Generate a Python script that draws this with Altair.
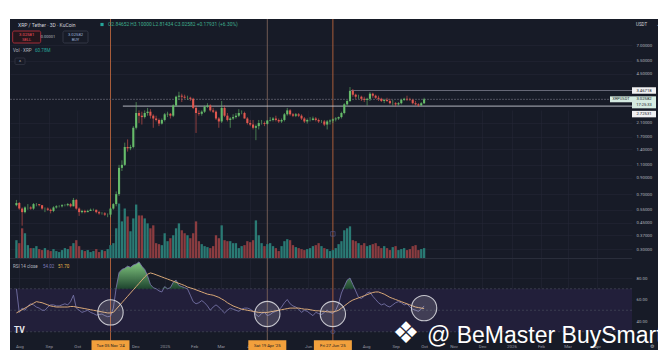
import altair as alt
import pandas as pd

# ---------------- data ----------------
first_date = "2024-07-29"          # 3-day candles
first_open = 0.59
last_open = 2.84652
closes = [0.61, 0.56, 0.53, 0.57, 0.57, 0.56, 0.60, 0.60, 0.59, 0.56,
          0.56, 0.55, 0.54, 0.57, 0.58, 0.58, 0.59, 0.59, 0.60, 0.58,
          0.64, 0.56, 0.53, 0.54, 0.53, 0.54, 0.55, 0.55, 0.53, 0.52,
          0.52, 0.51, 0.51, 0.56, 0.60, 0.70, 1.05, 1.10, 1.45, 1.42,
          1.45, 1.95, 2.45, 2.35, 2.30, 2.45, 2.50, 2.35, 2.25, 2.20,
          2.08, 2.20, 2.40, 2.42, 2.35, 2.75, 3.15, 3.20, 3.15, 3.10,
          3.10, 3.05, 2.65, 2.45, 2.42, 2.50, 2.70, 2.75, 2.55, 2.50,
          2.25, 2.15, 2.65, 2.35, 2.20, 2.25, 2.30, 2.35, 2.45, 2.45,
          2.25, 2.10, 2.05, 1.95, 2.00, 2.10, 2.10, 2.07, 2.18, 2.20,
          2.25, 2.20, 2.15, 2.20, 2.40, 2.55, 2.40, 2.35, 2.40, 2.35,
          2.25, 2.15, 2.20, 2.20, 2.25, 2.20, 2.15, 2.15, 2.05, 2.15,
          2.18, 2.22, 2.25, 2.30, 2.45, 2.80, 2.95, 3.45, 3.25, 3.15,
          3.15, 3.05, 3.00, 3.05, 3.30, 3.20, 3.10, 3.05, 2.95, 3.00,
          2.95, 2.85, 2.85, 2.80, 2.85, 3.00, 3.05, 3.02, 3.00, 2.85,
          2.80, 2.75, 2.85, 3.02582]
highs = [0.64, 0.62, 0.57, 0.58, 0.60, 0.58, 0.61, 0.61, 0.60, 0.59,
         0.57, 0.57, 0.56, 0.58, 0.59, 0.59, 0.60, 0.60, 0.61, 0.61,
         0.66, 0.65, 0.57, 0.55, 0.55, 0.55, 0.56, 0.56, 0.55, 0.54,
         0.53, 0.53, 0.52, 0.57, 0.61, 0.73, 1.10, 1.18, 1.55, 1.63,
         1.50, 2.00, 2.90, 2.55, 2.50, 2.55, 2.65, 2.60, 2.40, 2.35,
         2.25, 2.25, 2.45, 2.50, 2.45, 2.80, 3.20, 3.40, 3.30, 3.25,
         3.20, 3.15, 3.10, 2.75, 2.55, 2.55, 2.75, 2.85, 2.80, 2.65,
         2.55, 2.30, 2.95, 2.75, 2.45, 2.30, 2.40, 2.45, 2.60, 2.55,
         2.50, 2.30, 2.20, 2.20, 2.05, 2.20, 2.20, 2.15, 2.20, 2.30,
         2.30, 2.35, 2.25, 2.25, 2.45, 2.65, 2.60, 2.45, 2.45, 2.45,
         2.40, 2.30, 2.25, 2.30, 2.32, 2.30, 2.25, 2.20, 2.20, 2.20,
         2.22, 2.25, 2.30, 2.32, 2.50, 2.85, 3.00, 3.66, 3.55, 3.30,
         3.25, 3.20, 3.15, 3.10, 3.38, 3.35, 3.25, 3.20, 3.10, 3.05,
         3.10, 3.05, 3.00, 2.90, 2.90, 3.05, 3.10, 3.20, 3.10, 3.05,
         2.95, 2.85, 2.90, 3.10]
lows = [0.58, 0.55, 0.43, 0.52, 0.55, 0.55, 0.55, 0.58, 0.58, 0.55,
        0.53, 0.54, 0.52, 0.53, 0.56, 0.57, 0.57, 0.58, 0.58, 0.57,
        0.58, 0.55, 0.50, 0.52, 0.52, 0.53, 0.54, 0.54, 0.52, 0.51,
        0.51, 0.50, 0.49, 0.49, 0.55, 0.58, 0.68, 1.00, 1.08, 1.35,
        1.38, 1.42, 1.90, 2.10, 2.05, 2.25, 2.35, 2.25, 1.95, 2.15,
        2.00, 2.05, 2.15, 2.30, 2.25, 2.30, 2.70, 3.00, 2.90, 3.05,
        3.00, 2.95, 2.60, 1.80, 2.35, 2.35, 2.45, 2.65, 2.50, 2.45,
        2.20, 1.95, 2.10, 2.30, 2.15, 1.95, 2.20, 2.25, 2.30, 2.40,
        2.25, 2.05, 2.00, 1.90, 1.61, 1.90, 2.05, 2.00, 2.05, 2.15,
        2.15, 2.15, 2.10, 2.10, 2.15, 2.35, 2.35, 2.30, 2.30, 2.30,
        2.20, 2.10, 2.08, 2.15, 2.18, 2.15, 2.10, 2.10, 2.00, 1.90,
        2.05, 2.10, 2.15, 2.20, 2.25, 2.40, 2.75, 2.90, 3.15, 3.05,
        3.05, 2.95, 2.90, 2.75, 2.95, 3.10, 3.05, 2.95, 2.90, 2.85,
        2.90, 2.80, 2.75, 2.70, 2.75, 2.80, 2.95, 2.95, 2.95, 2.80,
        2.75, 2.70, 2.75, 2.81434]
volumes = [324, 270, 540, 450, 234, 180, 180, 216, 162, 144,
           180, 144, 126, 162, 126, 108, 144, 180, 162, 216,
           270, 324, 216, 144, 126, 144, 108, 126, 162, 108,
           144, 126, 162, 234, 270, 540, 990, 666, 900, 756,
           486, 720, 972, 774, 774, 720, 630, 540, 594, 270,
           252, 234, 450, 306, 360, 414, 540, 630, 504, 450,
           414, 360, 450, 666, 306, 252, 216, 198, 180, 216,
           414, 360, 594, 324, 306, 306, 270, 270, 180, 216,
           234, 306, 288, 324, 684, 414, 270, 216, 252, 270,
           216, 180, 126, 216, 306, 342, 324, 234, 198, 180,
           162, 144, 162, 180, 216, 234, 270, 216, 180, 162,
           126, 144, 180, 252, 306, 504, 540, 576, 324, 306,
           270, 234, 270, 216, 234, 252, 270, 216, 180, 216,
           180, 144, 198, 216, 144, 162, 180, 144, 162, 216,
           234, 144, 162, 180]
rsi_vals = [70, 48, 52, 50, 54, 56, 55, 53, 52, 50,
            50, 53, 55, 55, 54, 54, 55, 56, 55, 58,
            64, 52, 50, 48, 49, 50, 48, 47, 45.5, 46,
            46.5, 45, 44, 44.5, 52, 71, 85, 88, 89, 91,
            90, 92, 93, 95, 91, 88, 82, 74, 71, 70,
            68, 67, 72, 70, 71, 76, 78, 73, 72, 71,
            70, 64, 58, 56, 57, 59, 57, 54, 50, 53,
            55, 53, 50, 47.5, 50, 52, 51, 50, 49, 51,
            52, 52, 51, 49, 46, 44, 47, 48, 45, 46,
            48, 49, 50, 53, 57, 60, 56, 54, 53, 51,
            48, 50, 49, 47, 45, 48, 47, 46, 48, 50,
            48, 47, 50, 56, 66, 72, 78, 80, 74, 68,
            62, 61, 63, 66, 67, 63, 60, 57, 55, 56,
            54, 53, 55, 57, 58, 57, 55, 56, 53, 51,
            50, 49, 51, 54.02]
rsi_ma = [47.5, 49, 50.5, 52, 53.5, 55, 56.5, 58, 57.5, 57,
          56, 55, 54, 53.5, 53, 53, 53, 53, 53, 53.5,
          53.5, 53, 52.5, 52, 51.5, 51, 50.5, 50, 49.5, 49,
          48.5, 48, 47.5, 47.5, 48, 51, 54, 57, 60, 63,
          66, 69, 72, 75, 78, 81, 83.5, 84.7, 84, 83,
          82, 81, 80, 79, 78, 77, 76, 75, 74, 73,
          71.6, 70.8, 70, 69, 68, 67, 66, 65, 64.5, 64,
          63, 62, 60.5, 59, 57, 55.5, 54, 53, 52, 51,
          50.5, 50, 49.5, 49, 48.5, 48, 48, 48, 48, 48.5,
          49, 49.5, 50, 50.5, 51, 51.5, 52, 52, 52, 52,
          51.5, 51, 51, 50.5, 50, 49.5, 49.5, 49, 49, 48.5,
          48.5, 48.4, 49, 50, 52, 54, 56, 58, 59.5, 60.5,
          61.5, 62.5, 63.5, 64.5, 65.5, 66.5, 67, 67, 66, 65,
          63.5, 62, 61, 60, 59, 58, 57, 56, 55, 54,
          53, 52.5, 52, 51.7]

price_ticks = [0.30, 0.37, 0.45, 0.55, 0.70, 0.90, 1.10, 1.40, 1.70, 2.10, 4.50, 5.50, 7.00, 8.80]
rsi_ticks = [40, 60, 80]
rsi_levels = [70, 50, 30]
rsi_band = [70, 30]
month_ticks = ["2024-08-01", "2024-09-01", "2024-10-01", "2024-12-01", "2025-01-01",
               "2025-02-01", "2025-03-01", "2025-04-01", "2025-06-01", "2025-08-01",
               "2025-09-01", "2025-10-01", "2025-11-01", "2025-12-01", "2026-01-01",
               "2026-02-01", "2026-03-01", "2026-04-01"]
x_domain = ["2024-07-27T12:00:00", "2026-05-02T12:00:00"]
marker_dates = ["2024-11-05", "2025-04-19", "2025-06-27"]
marker_labels = ["Tue 05 Nov '24", "Sat 19 Apr '25", "Fri 27 Jun '25"]
circle_dates = ["2024-11-05", "2025-04-19", "2025-06-27", "2025-10-01"]
circle_rsi = [48, 46.5, 46.5, 52]
hi_level, last_price, lo_level = 3.46718, 3.02582, 2.72531
hi_level_start, lo_level_start = "2025-07-16", "2024-11-18"
countdown = "17:25:33"
anchor_date, anchor_price, anchor_rsi = "2025-06-27", 0.379, 30

# ---------------- styling ----------------
W, H = 622, 321
BG = "#171b27"
TXT = "#b2b5be"
UP, DN = "#66bb6a", "#e0574f"
VUP, VDN = "#2a7a74", "#8a3c40"
GRID = "#232736"
FONT = "Roboto"

n = len(closes)
dates = pd.date_range(first_date, periods=n, freq="3D").strftime("%Y-%m-%d")
opens = [first_open] + closes[:-1]
opens[-1] = last_open
df = pd.DataFrame(dict(date=dates, open=opens, high=highs, low=lows, close=closes,
                       vol=volumes, rsi=rsi_vals, ma=rsi_ma))


def ms(s):
    return int(pd.Timestamp(s).value // 10**6)


xs = alt.Scale(type="utc", domain=[ms(d) for d in x_domain], nice=False)
xaxis = alt.Axis(values=[ms(d) for d in month_ticks], title=None, grid=True, gridColor=GRID,
                 gridWidth=0.6, domain=False, ticks=False, labelColor="#9598a1",
                 labelFontSize=4.4, labelFont=FONT, labelPadding=4, labelFlush=False,
                 labelOverlap=False,
                 labelExpr="utcFormat(datum.value, '%m') == '01' ? utcFormat(datum.value, '%Y') : utcFormat(datum.value, '%b')")


def X(field):
    return alt.X(f"{field}:T", scale=xs, axis=xaxis, title=None)


ps = alt.Scale(type="log", domain=[0.3, 7.0], range=[230, 26], nice=False)
rs = alt.Scale(domain=[40, 80], range=[302, 259], nice=False, zero=False)
vs = alt.Scale(domain=[0, 1000], range=[239, 184], nice=False)

price_axis = alt.Axis(orient="right", values=price_ticks, format=".5f", title=None, grid=True,
                      gridColor=GRID, gridWidth=0.6, domain=False, ticks=False, labelColor=TXT,
                      labelFontSize=4.3, labelFont=FONT, labelPadding=4, labelFlush=False,
                      labelOverlap=False)
rsi_axis = alt.Axis(orient="right", values=rsi_ticks, format=".2f", title=None, grid=True,
                    gridColor=GRID, gridWidth=0.6, domain=False, ticks=False, labelColor=TXT,
                    labelFontSize=4.3, labelFont=FONT, labelPadding=4, labelFlush=False,
                    labelOverlap=False)

one = pd.DataFrame({"k": [0]})


def text(s, x, y, size=4.6, color=TXT, align="left", baseline="middle", weight="normal", font=FONT):
    return alt.Chart(one).mark_text(text=s, fontSize=size, color=color, align=align,
                                    baseline=baseline, fontWeight=weight, font=font).encode(
        x=alt.value(x), y=alt.value(y))


def box(x1, y1, x2, y2, fill, stroke=None, sw=0.7, r=0):
    kw = dict(fill=fill, cornerRadius=r)
    if stroke:
        kw.update(stroke=stroke, strokeWidth=sw)
    return alt.Chart(one).mark_rect(**kw).encode(x=alt.value(x1), x2=alt.value(x2),
                                                 y=alt.value(y1), y2=alt.value(y2))


up = "datum.close >= datum.open"
layers = []

# RSI band
band_df = pd.DataFrame({"top": [rsi_band[0]], "bot": [rsi_band[1]]})
layers.append(alt.Chart(band_df).mark_rect(fill="#221f3a").encode(
    x=alt.value(0), x2=alt.value(W), y=alt.Y("top:Q", scale=rs, axis=None), y2="bot:Q"))
# pane divider
layers.append(alt.Chart(one).mark_rule(color="#2a2e3b", strokeWidth=1).encode(
    x=alt.value(0), x2=alt.value(W), y=alt.value(239.5)))

# vertical date lines
vcolors = ["#b8643c", "#7a6258", "#b8643c"]
for d, c in zip(marker_dates, vcolors):
    layers.append(alt.Chart(pd.DataFrame({"d": [d]})).mark_rule(color=c, strokeWidth=0.9).encode(
        x=X("d"), y=alt.value(0), y2=alt.value(324)))

# horizontal levels
layers.append(alt.Chart(pd.DataFrame({"v": [last_price]})).mark_rule(
    color="#5f6270", strokeWidth=0.8, strokeDash=[2, 1]).encode(
    x=alt.value(0), x2=alt.value(W), y=alt.Y("v:Q", scale=ps, axis=None)))
layers.append(alt.Chart(pd.DataFrame({"d": [hi_level_start], "v": [hi_level]})).mark_rule(
    color="#6f7280", strokeWidth=0.9).encode(
    x=X("d"), x2=alt.value(W), y=alt.Y("v:Q", scale=ps, axis=None)))
layers.append(alt.Chart(pd.DataFrame({"d": [lo_level_start], "v": [lo_level]})).mark_rule(
    color="#c4c7cf", strokeWidth=0.9).encode(
    x=X("d"), x2=alt.value(W), y=alt.Y("v:Q", scale=ps, axis=None)))

# volume
layers.append(alt.Chart(df).mark_bar(size=2.3).encode(
    x=X("date"), y=alt.Y("vol:Q", scale=vs, axis=None),
    color=alt.condition(up, alt.value(VUP), alt.value(VDN))))

# candles
layers.append(alt.Chart(df).mark_rule(strokeWidth=0.6).encode(
    x=X("date"), y=alt.Y("low:Q", scale=ps, axis=None), y2="high:Q",
    color=alt.condition(up, alt.value(UP), alt.value(DN))))
layers.append(alt.Chart(df).mark_bar(size=2.1).encode(
    x=X("date"), y=alt.Y("open:Q", scale=ps, axis=price_axis), y2="close:Q",
    color=alt.condition(up, alt.value(UP), alt.value(DN))))

# RSI dashed levels
layers.append(alt.Chart(pd.DataFrame({"v": rsi_levels})).mark_rule(
    color="#4d5060", strokeWidth=0.6, strokeDash=[2, 2]).encode(
    x=alt.value(0), x2=alt.value(W), y=alt.Y("v:Q", scale=rs, axis=None)))

# overbought fill
grad = alt.Gradient(gradient="linear", x1=0, x2=0, y1=0, y2=1,
                    stops=[alt.GradientStop(color="#8fdc8a", offset=0),
                           alt.GradientStop(color="#1f4a30", offset=1)])
layers.append(alt.Chart(df).transform_calculate(ob="max(datum.rsi, 70)", base="70").mark_area(
    color=grad, opacity=0.9, interpolate="linear").encode(
    x=X("date"), y=alt.Y("ob:Q", scale=rs, axis=None), y2="base:Q"))

# RSI + MA
layers.append(alt.Chart(df).mark_line(color="#7d7bb2", strokeWidth=0.8).encode(
    x=X("date"), y=alt.Y("rsi:Q", scale=rs, axis=rsi_axis)))
layers.append(alt.Chart(df).mark_line(color="#d9a877", strokeWidth=1.0).encode(
    x=X("date"), y=alt.Y("ma:Q", scale=rs, axis=None)))

# circles
cdf = pd.DataFrame({"d": circle_dates, "r": circle_rsi})
layers.append(alt.Chart(cdf).mark_point(shape="circle", size=640, filled=True, color="#ffffff",
                                        opacity=0.14).encode(
    x=X("d"), y=alt.Y("r:Q", scale=rs, axis=None)))
layers.append(alt.Chart(cdf).mark_point(shape="circle", size=640, filled=False, color="#d6d6dc",
                                        strokeWidth=1.1, opacity=0.9).encode(
    x=X("d"), y=alt.Y("r:Q", scale=rs, axis=None)))

# small anchor handles on the Jun 27 line
layers.append(alt.Chart(pd.DataFrame({"d": [anchor_date], "v": [anchor_price]})).mark_point(
    shape="square", size=20, filled=False, color="#5a5e9a", strokeWidth=0.8).encode(
    x=X("d"), y=alt.Y("v:Q", scale=ps, axis=None)))
layers.append(alt.Chart(pd.DataFrame({"d": [anchor_date], "v": [anchor_rsi]})).mark_point(
    shape="circle", size=16, filled=False, color="#5a5e9a", strokeWidth=0.8).encode(
    x=X("d"), y=alt.Y("v:Q", scale=rs, axis=None)))

# price labels on the right scale
def plabel(value, label, fill, yoff=0, h=0.27, size=576, tcolor="#131722"):
    d = pd.DataFrame({"v": [value]})
    shape = f"M-1,-{h}H1V{h}H-1Z"
    b = alt.Chart(d).mark_point(shape=shape, size=size, filled=True, color=fill, opacity=1,
                                yOffset=yoff).encode(x=alt.value(634), y=alt.Y("v:Q", scale=ps, axis=None))
    t = alt.Chart(d).mark_text(text=label, fontSize=4.2, font=FONT, color=tcolor, yOffset=yoff).encode(
        x=alt.value(634), y=alt.Y("v:Q", scale=ps, axis=None))
    return [b, t]


layers += plabel(hi_level, f"{hi_level:.5f}", "#f0f0f2")
lp = pd.DataFrame({"v": [last_price]})
layers.append(alt.Chart(lp).mark_point(shape="M-1,-0.5H1V0.5H-1Z", size=576, filled=True,
                                       color="#d5ebe1", opacity=1, yOffset=3).encode(
    x=alt.value(634), y=alt.Y("v:Q", scale=ps, axis=None)))
layers.append(alt.Chart(lp).mark_point(shape="M-1,-0.27H1V0.27H-1Z", size=484, filled=True,
                                       color="#d5ebe1", opacity=1).encode(
    x=alt.value(611), y=alt.Y("v:Q", scale=ps, axis=None)))
layers.append(alt.Chart(lp).mark_text(text="XRPUSDT", fontSize=3.9, font=FONT, color="#131722").encode(
    x=alt.value(611), y=alt.Y("v:Q", scale=ps, axis=None)))
layers.append(alt.Chart(lp).mark_text(text=f"{last_price:.5f}", fontSize=4.2, font=FONT, color="#131722").encode(
    x=alt.value(634), y=alt.Y("v:Q", scale=ps, axis=None)))
layers.append(alt.Chart(lp).mark_text(text=countdown, fontSize=4.0, font=FONT, color="#131722",
                                      yOffset=5.5).encode(
    x=alt.value(634), y=alt.Y("v:Q", scale=ps, axis=None)))
layers += plabel(lo_level, f"{lo_level:.5f}", "#f0f0f2", yoff=8)

# date highlight boxes on the time axis
mdf = pd.DataFrame({"d": marker_dates, "t": marker_labels})
layers.append(alt.Chart(mdf).mark_point(shape="M-1,-0.27H1V0.27H-1Z", size=1444, filled=True,
                                        color="#f2a03c", opacity=1).encode(
    x=X("d"), y=alt.value(326.5)))
layers.append(alt.Chart(mdf).mark_text(fontSize=4.3, font=FONT, color="#131722").encode(
    x=X("d"), y=alt.value(326.5), text="t:N"))

# header / legend texts
layers.append(text("XRP / Tether · 3D · KuCoin", 8, 5.5, size=5, color="#d1d4dc"))
layers.append(alt.Chart(one).mark_point(shape="square", size=10, filled=True, color="#26a69a",
                                        opacity=1).encode(x=alt.value(92), y=alt.value(5.5)))
layers.append(text("O2.84652 H3.10000 L2.81434 C3.02582 +0.17931 (+6.30%)", 98, 5.5,
                   size=4.9, color="#3fae8e"))
layers.append(box(2.7, 12, 30.7, 24, "#24161c", "#c8323f", 0.8, 1.5))
layers.append(text("3.02581", 16.7, 15.5, size=4.2, color="#f7525f", align="center"))
layers.append(text("SELL", 16.7, 20.8, size=4.0, color="#f7525f", align="center"))
layers.append(text("0.00001", 38, 18, size=4.0, color=TXT, align="center"))
layers.append(box(53, 12, 78, 24, "#171b27", "#3a3e4c", 0.8, 1.5))
layers.append(text("3.02582", 65.5, 15.5, size=4.2, color="#9fb3dc", align="center"))
layers.append(text("BUY", 65.5, 20.8, size=4.0, color="#9fb3dc", align="center"))
layers.append(text("Vol · XRP", 3, 32, size=4.6, color=TXT))
layers.append(text("60.78M", 25, 32, size=4.6, color="#26a69a"))
layers.append(box(5, 39, 15, 45.5, "#171b27", "#363a47", 0.7, 1))
layers.append(text("^", 10, 43, size=5, color=TXT, align="center"))
layers.append(text("RSI 14 close", 3, 247.5, size=4.5, color=TXT))
layers.append(text("54.02", 33, 247.5, size=4.5, color="#7e7bb8"))
layers.append(text("51.70", 48, 247.5, size=4.5, color="#e8b84a"))
layers.append(text("USDT", 626, 5.5, size=4.5, color="#d1d4dc"))
layers.append(text("⌄", 646, 4.5, size=5, color=TXT, font="DejaVu Sans"))
layers.append(text("⚙", 640, 327, size=5, color=TXT, font="DejaVu Sans"))
layers.append(text("TV", 4, 311, size=8.5, color="#e8e8ec", weight="bold"))

# watermark
layers.append(text("❖", 396, 315, size=30, color="#ffffff", align="center", font="DejaVu Sans"))
layers.append(text("@ BeMaster BuySmart", 417, 324, size=23, color="#ffffff",
                   baseline="alphabetic", font="Liberation Sans"))

# white margins outside the dark screenshot area
layers.append(box(-10, -19, 660, 0, "#ffffff"))
layers.append(box(-10, -19, 0, 343, "#ffffff"))
layers.append(box(648, -19, 660, 343, "#ffffff"))
layers.append(box(-10, 331, 660, 343, "#ffffff"))

chart = alt.layer(*layers).resolve_scale(y="independent").properties(
    width=W, height=H,
    padding={"left": 10, "top": 19, "right": 38, "bottom": 22},
    autosize=alt.AutoSizeParams(type="none"),
    background=BG,
).configure_view(stroke=None)

chart.save("out.html", embed_options={"renderer": "svg", "actions": False})
